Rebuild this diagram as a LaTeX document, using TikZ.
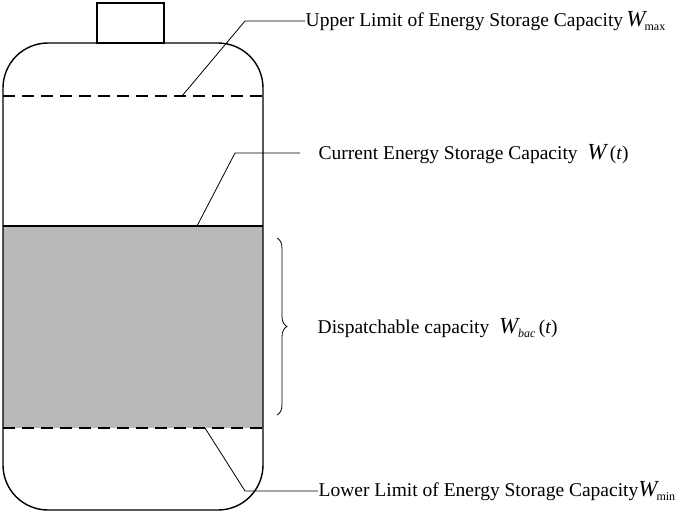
\documentclass[tikz,border=0pt]{standalone}
\usepackage{fontspec}
\setmainfont{Liberation Serif}
\usetikzlibrary{decorations.pathreplacing}
\newcommand{\bigW}{{\fontsize{23}{24}\selectfont\itshape W}}
\newcommand{\subtx}[1]{\raisebox{-4pt}{\fontsize{12}{13}\selectfont #1}}
\begin{document}
\begin{tikzpicture}[x=1pt,y=-1pt,line width=1.4pt,
  lbl/.style={anchor=west,font=\fontsize{19.5}{21}\selectfont,inner sep=0pt},
  lead/.style={line width=0.8pt}]
\useasboundingbox (0,0) rectangle (685,520);
\fill[gray!55] (3,226) rectangle (263,428);
\draw (97,43) rectangle (164,3);
\draw[rounded corners=45pt] (3,43) rectangle (263,510);
\draw[dashed,dash pattern=on 12pt off 7pt] (3,96) -- (263,96);
\draw (3,226) -- (263,226);
\draw[dashed,dash pattern=on 12pt off 7pt] (3,428) -- (263,428);
\draw[line width=0.8pt,decorate,decoration={brace,amplitude=10pt}] (277,238) -- (277,415);
\node[lbl] (u) at (305,21) {Upper Limit of Energy Storage Capacity\,\bigW\kern-1pt\subtx{max}};
\node[lbl] (c) at (318,154) {Current Energy Storage Capacity \ \bigW\,(\textit{t})};
\node[lbl] (d) at (317,328) {Dispatchable capacity \ \bigW\subtx{\itshape bac}\,(\textit{t})};
\node[lbl] (l) at (318,491) {Lower Limit of Energy Storage Capacity\bigW\kern-1pt\subtx{min}};
\coordinate (a1) at (182,96); \coordinate (b1) at (245,21);
\coordinate (a2) at (197,226); \coordinate (b2) at (235,153);
\coordinate (a3) at (205,428); \coordinate (b3) at (245,491);
\draw[lead] (a1) -- (b1) -- (u.west);
\draw[lead] (a2) -- (b2) -- (300,153);
\draw[lead] (a3) -- (b3) -- (l.west);
\end{tikzpicture}
\end{document}
